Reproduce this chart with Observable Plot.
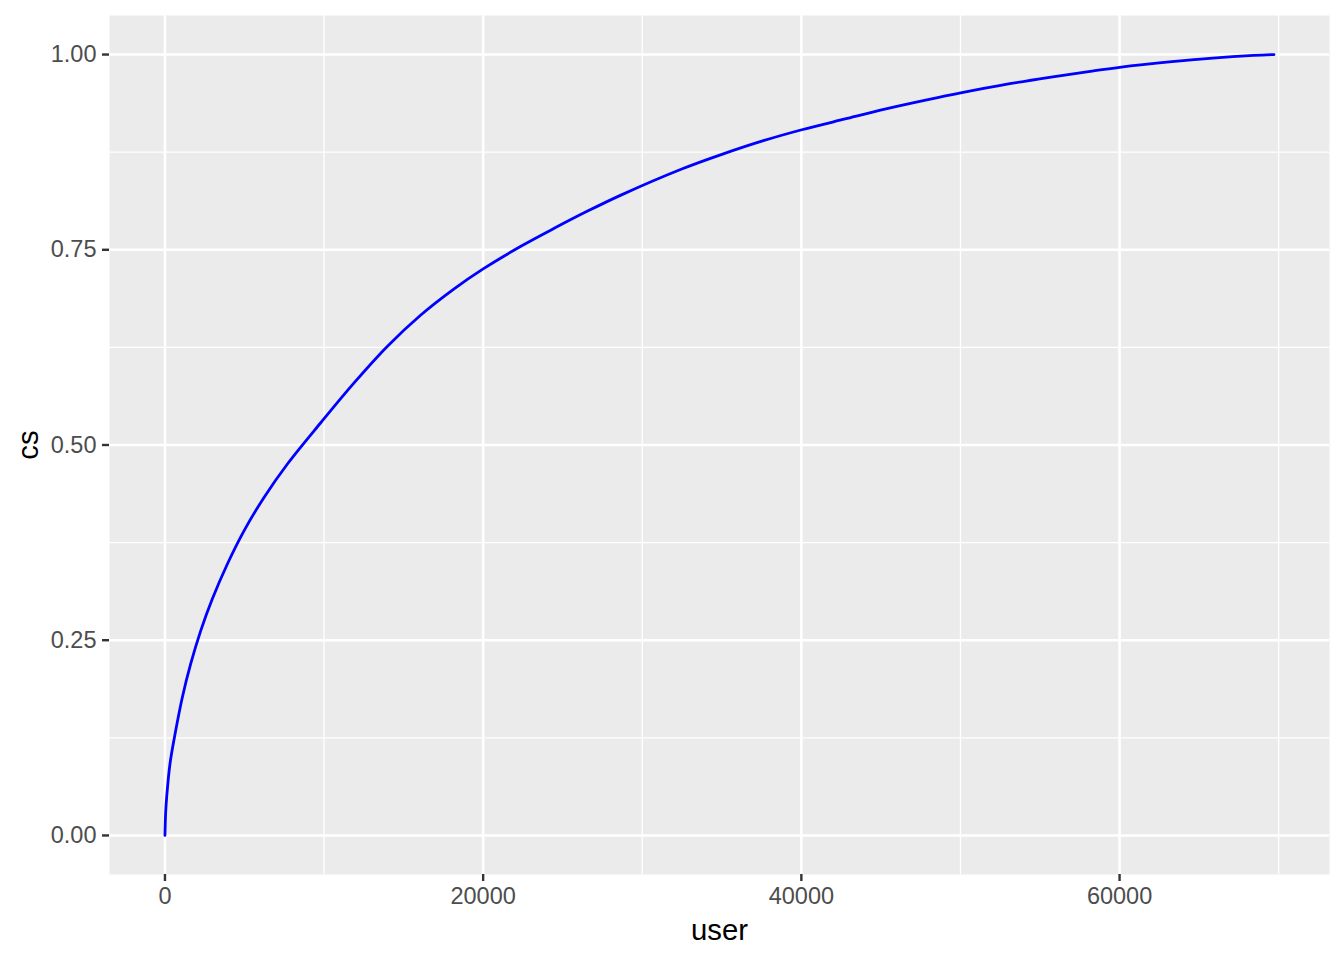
<!DOCTYPE html>
<html>
<head>
<meta charset="utf-8">
<script src="https://cdn.jsdelivr.net/npm/d3@7"></script>
<script src="https://cdn.jsdelivr.net/npm/@observablehq/plot@0.6"></script>
<style>
  html, body { margin: 0; padding: 0; background: #ffffff; }
  #chart { width: 1344px; height: 960px; }
</style>
</head>
<body>
<div id="chart"></div>
<script>
// Data
const user = [0, 44, 107, 315, 673, 1094, 1616, 2245, 2981, 3924, 4968, 6226, 7698, 9792, 11886, 13987, 16081, 18176, 20000, 22370, 24465, 26564, 28659, 32484, 35050, 37615, 40030, 42753, 45319, 47885, 50017, 53017, 55591, 58155, 60003, 63286, 65852, 68419, 69710];
const cs   = [0, 0.029, 0.0488, 0.0915, 0.134, 0.177, 0.2196, 0.262, 0.303, 0.3476, 0.390, 0.4329, 0.4757, 0.5285, 0.5795, 0.6265, 0.6665, 0.700, 0.7255, 0.7545, 0.7775, 0.7995, 0.820, 0.8534, 0.8725, 0.8897, 0.9037, 0.9175, 0.9303, 0.9418, 0.9508, 0.9623, 0.9708, 0.9785, 0.9836, 0.9908, 0.9955, 0.9989, 1.0];

const xMajor = [0, 20000, 40000, 60000];
const xMinor = [10000, 30000, 50000, 70000];
const yMajor = [0, 0.25, 0.5, 0.75, 1];
const yMinor = [0.125, 0.375, 0.625, 0.875];
const xTitle = "user";
const yTitle = "cs";

const data = user.map((u, i) => ({user: u, cs: cs[i]}));

const xr = d3.extent(user), yr = d3.extent(cs);
const xpad = (xr[1] - xr[0]) * 0.05, ypad = (yr[1] - yr[0]) * 0.05;

const fmtY = d3.format(".2f");
const fmtX = d3.format("d");

const chart = Plot.plot({
  width: 1344,
  height: 960,
  marginLeft: 109,
  marginRight: 15,
  marginTop: 15,
  marginBottom: 86,
  style: {background: "#ffffff", fontFamily: "'Liberation Sans', Arial, Helvetica, sans-serif"},
  x: {domain: [xr[0] - xpad, xr[1] + xpad]},
  y: {domain: [yr[0] - ypad, yr[1] + ypad]},
  marks: [
    Plot.frame({fill: "#EBEBEB", stroke: null}),
    Plot.ruleX(xMinor, {stroke: "#ffffff", strokeWidth: 1.3}),
    Plot.ruleY(yMinor, {stroke: "#ffffff", strokeWidth: 1.3}),
    Plot.ruleX(xMajor, {stroke: "#ffffff", strokeWidth: 2.6}),
    Plot.ruleY(yMajor, {stroke: "#ffffff", strokeWidth: 2.6}),
    Plot.line(data, {x: "user", y: "cs", stroke: "#0000FF", strokeWidth: 2.8, curve: "catmull-rom"}),
    Plot.axisX(xMajor, {tickSize: 7, tickPadding: 6, strokeWidth: 2.4, stroke: "#333333", fill: "#4D4D4D", fontSize: 23.5, tickFormat: fmtX, label: null}),
    Plot.axisY(yMajor, {tickSize: 7, tickPadding: 6, strokeWidth: 2.4, stroke: "#333333", fill: "#4D4D4D", fontSize: 23.5, tickFormat: fmtY, label: null}),
    Plot.text([xTitle], {frameAnchor: "bottom", lineAnchor: "middle", textAnchor: "middle", dy: 56, fontSize: 29.3, fill: "#000000", text: d => d}),
    Plot.text([yTitle], {frameAnchor: "left", lineAnchor: "middle", textAnchor: "middle", dx: -81, rotate: -90, fontSize: 29.3, fill: "#000000", text: d => d})
  ]
});
document.getElementById("chart").appendChild(chart);
</script>
</body>
</html>
